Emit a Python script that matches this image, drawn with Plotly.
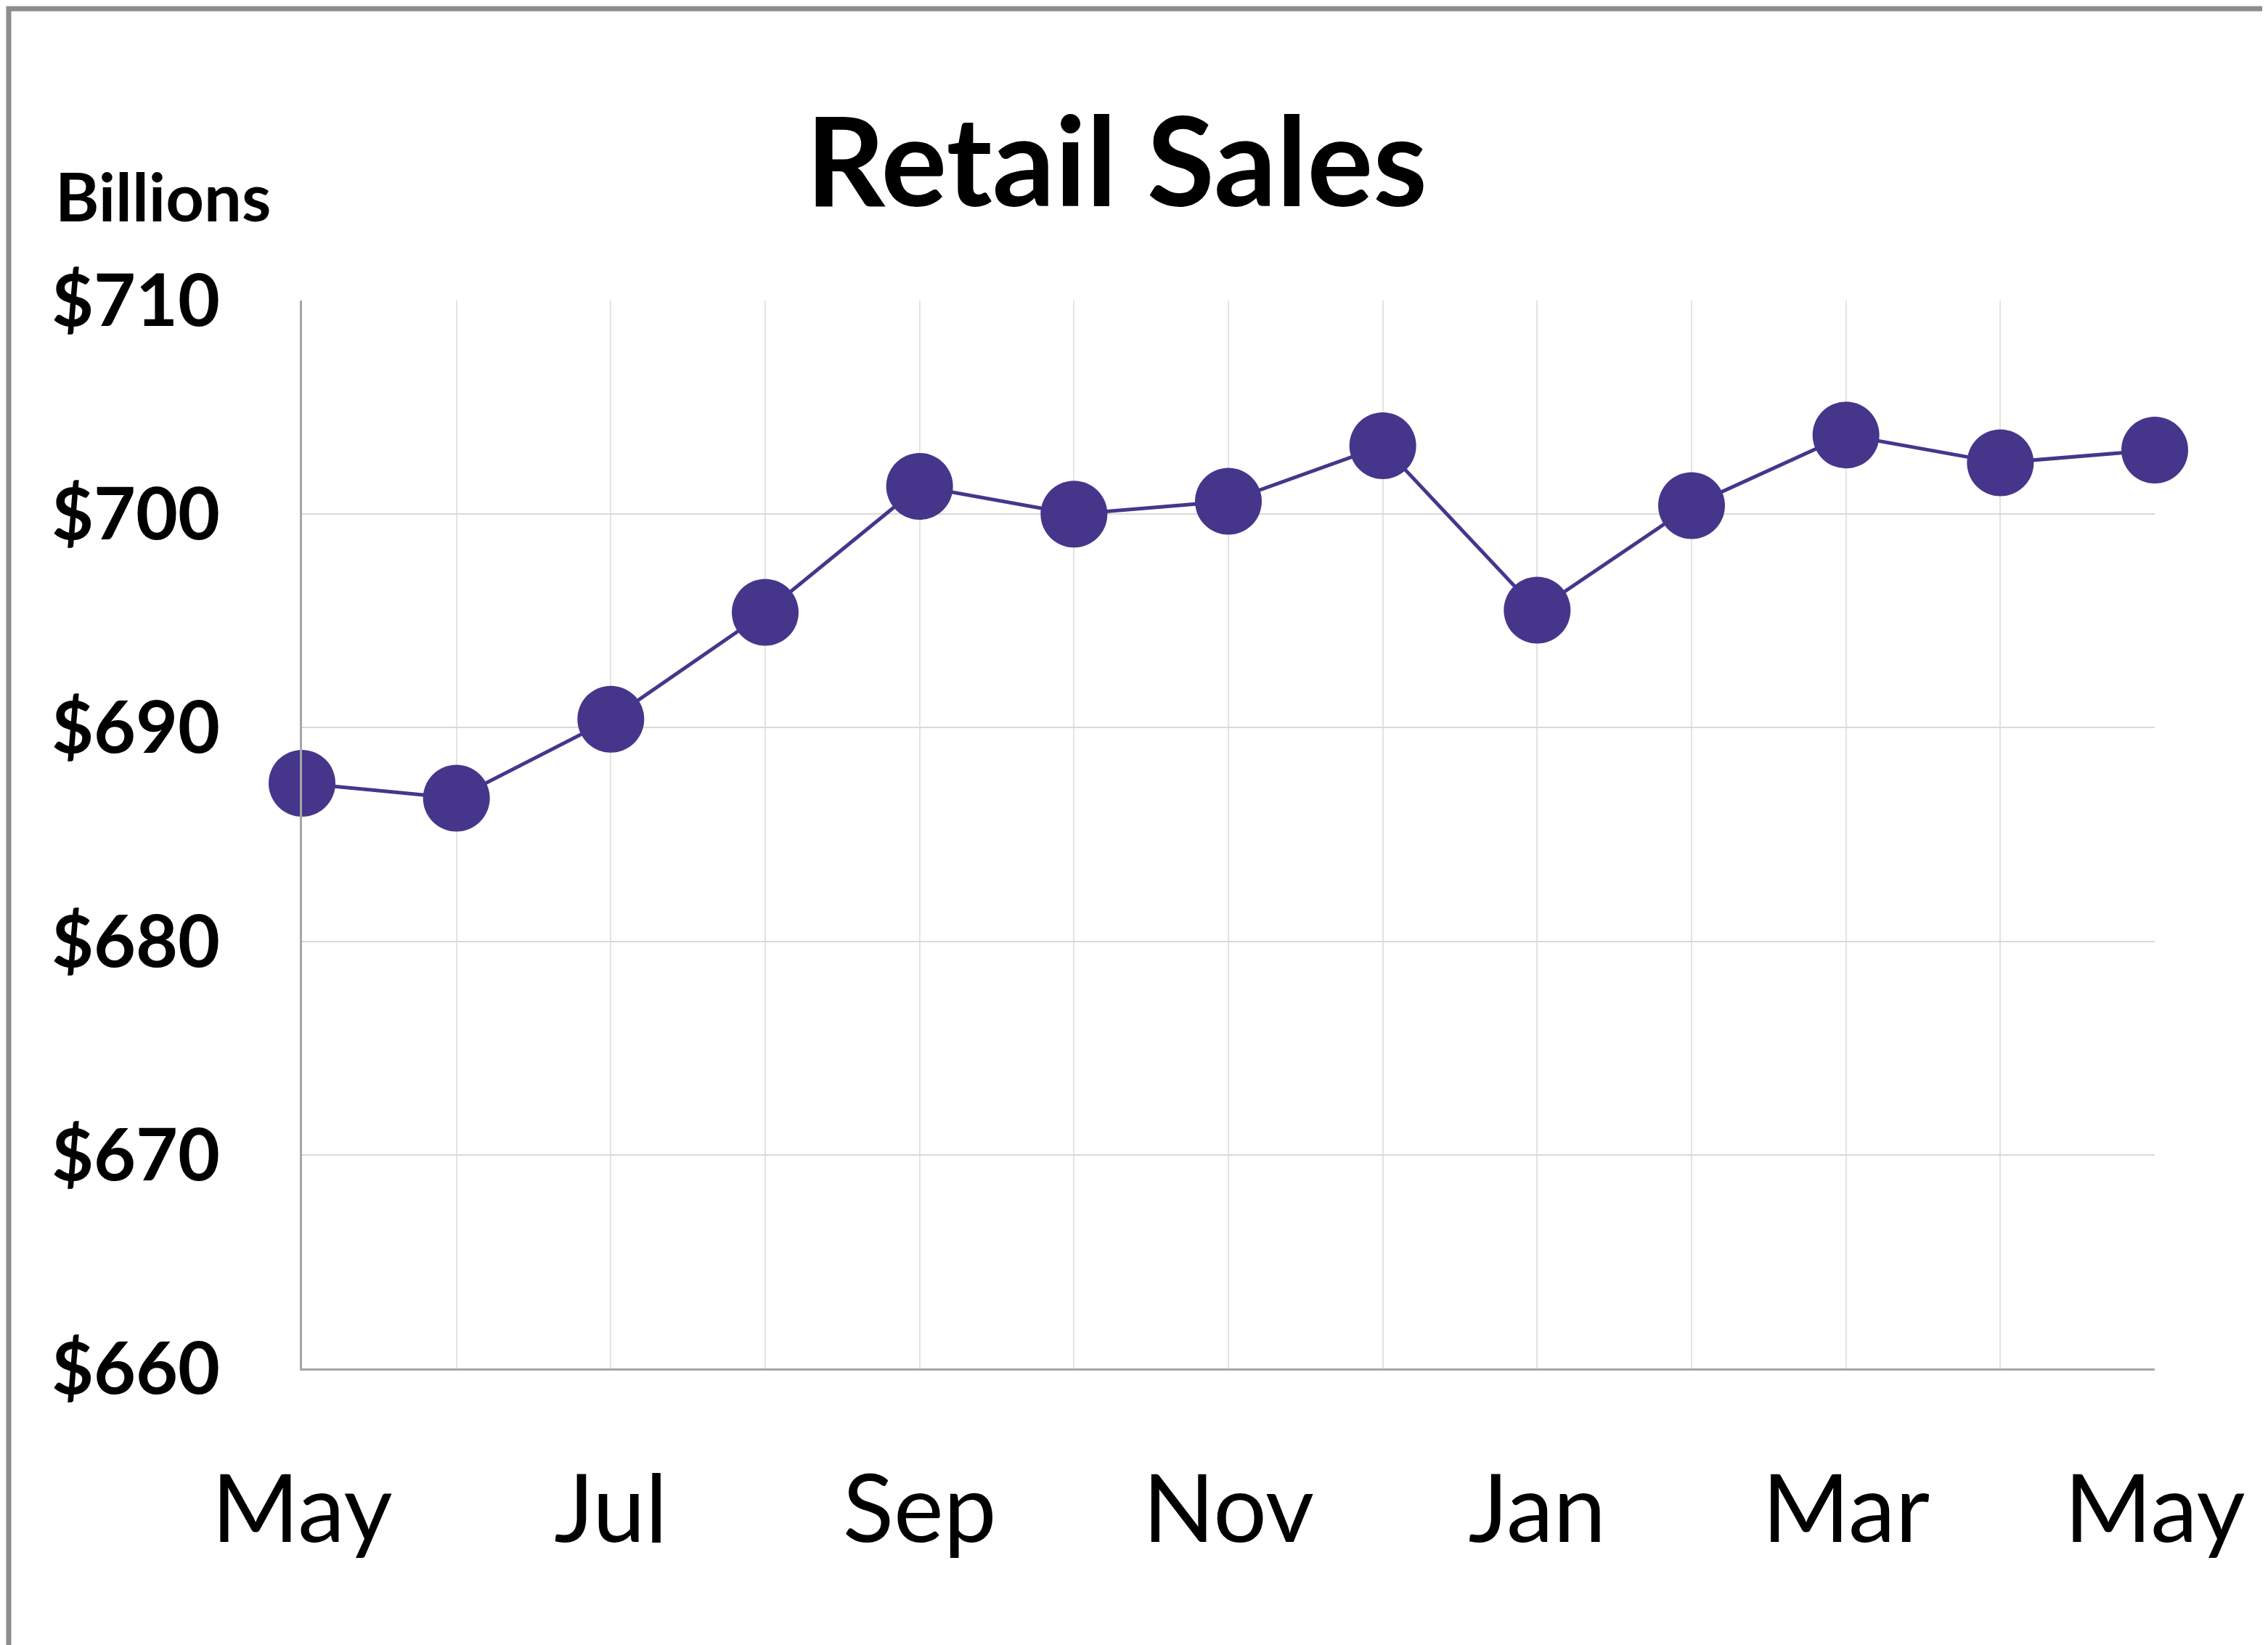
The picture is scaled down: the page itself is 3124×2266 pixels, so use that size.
import plotly.graph_objects as go

months = ["May","Jun","Jul","Aug","Sep","Oct","Nov","Dec","Jan","Feb","Mar","Apr","May"]
sales = [687.4, 686.7, 690.4, 695.4, 701.3, 700.0, 700.6, 703.2, 695.5, 700.4, 703.7, 702.4, 703.0]
y_ticks = [660, 670, 680, 690, 700, 710]

W, H = 3124, 2266
L, R, T, B = 408, 164, 406, 389
pw, ph = W - L - R, H - T - B
xs = list(range(len(months)))
ticktext = [m if i % 2 == 0 else "" for i, m in enumerate(months)]

fig = go.Figure(go.Scatter(
    x=xs, y=sales, mode="lines+markers",
    line=dict(color="#45368C", width=5),
    marker=dict(size=92, color="#45368C", line=dict(color="#45368C", width=0)),
    cliponaxis=False, showlegend=False))

font = "Lato, Open Sans, sans-serif"
fig.update_layout(
    width=W, height=H, margin=dict(l=L, r=R, t=T, b=B),
    paper_bgcolor="white", plot_bgcolor="white",
    xaxis=dict(range=[0, 12], tickvals=xs, ticktext=ticktext, showgrid=True,
               gridcolor="#E3E3E3", gridwidth=2, showline=True, linecolor="#A6A6A6",
               linewidth=3, ticks="", zeroline=False, ticklabelstandoff=80,
               tickfont=dict(family=font, size=130, color="black")),
    yaxis=dict(range=[660, 710], tickvals=y_ticks, ticktext=[f"${v}" for v in y_ticks],
               showgrid=True, gridcolor="#D9D9D9", gridwidth=2, showline=True,
               linecolor="#A6A6A6", linewidth=3, ticks="", zeroline=False,
               ticklabelstandoff=90,
               tickfont=dict(family=font, size=100, color="black", weight="bold")),
    annotations=[
        dict(text="<b>Retail Sales</b>", xref="paper", yref="paper",
             x=(1530 - L) / pw, y=1 + (T - 210) / ph, showarrow=False,
             xanchor="center", yanchor="middle",
             font=dict(family=font, size=170, color="black")),
        dict(text="<b>Billions</b>", xref="paper", yref="paper",
             x=(216 - L) / pw, y=1 + (T - 262) / ph, showarrow=False,
             xanchor="center", yanchor="middle",
             font=dict(family=font, size=92, color="black")),
    ],
    shapes=[dict(type="rect", xref="paper", yref="paper",
                 x0=(-L + 4) / pw, x1=1 + (R - 4) / pw,
                 y0=(-B + 4) / ph, y1=1 + (T - 4) / ph,
                 line=dict(color="#8C8C8C", width=7))],
)
fig.write_html("out.html")
